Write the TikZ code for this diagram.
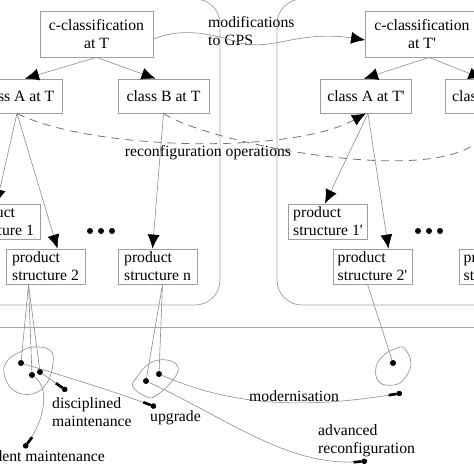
\documentclass[tikz,border=0pt]{standalone}
\usepackage{fontspec}
\setmainfont{Liberation Serif}[Ligatures=TeXOff]
\usetikzlibrary{arrows.meta,calc}
\definecolor{boxgray}{gray}{0.62}
\definecolor{linegray}{gray}{0.55}
\definecolor{panelgray}{gray}{0.66}
\definecolor{dashgray}{gray}{0.45}
\newcommand{\twol}[2]{\begin{tabular}[t]{@{}l@{}}#1\\#2\end{tabular}}
\begin{document}
\begin{tikzpicture}[x=1pt,y=-1pt,
  font=\fontsize{15.7}{18}\selectfont,
  box/.style={draw=boxgray, line width=0.8pt, inner sep=0pt, align=center},
  ccbox/.style={box, minimum width=113pt, minimum height=46pt},
  clbox/.style={box, minimum width=91pt, minimum height=34pt},
  psbox/.style={box, minimum width=79pt, minimum height=35pt, align=left},
  conn/.style={draw=linegray, line width=0.6pt},
  arr/.style={conn, -{Latex[length=14pt,width=12pt,color=black]}},
  dsh/.style={draw=dashgray, line width=0.8pt, dash pattern=on 8pt off 6pt},
  panel/.style={draw=panelgray, line width=0.8pt, rounded corners=25pt},
  blob/.style={draw=linegray, line width=0.6pt},
  dotn/.style={circle, fill=black, inner sep=0pt, minimum size=6pt},
  endtip/.style={conn, -{Rectangle[length=8pt,width=2.6pt,color=black] Circle[length=5.5pt,color=black]}},
  lbl/.style={inner sep=0pt}
]
\useasboundingbox (0,0) rectangle (474,474);
\clip (0,0) rectangle (474,474);

% panels and separator
\draw[panel] (-60,-1) rectangle (220,305);
\draw[panel] (277,-1) rectangle (540,305);
\draw[draw=panelgray, line width=0.8pt] (-10,327) -- (484,327);

% boxes
\node[ccbox] (ccT)  at (96.5,34) {c-classification\\at T};
\node[ccbox] (ccT2) at (422,34)  {c-classification\\at T'};
\node[clbox] (cAT)  at (17,96)    {class A at T};
\node[clbox] (cBT)  at (163.5,96) {class B at T};
\node[clbox] (cAT2) at (366,96)   {class A at T'};
\node[clbox] (cBT2) at (490.5,96) {class B at T'};
\node[psbox] (ps1)  at (0.5,221.5)   {product\\structure 1};
\node[psbox] (ps2)  at (45.5,266.5)  {product\\structure 2};
\node[psbox] (psn)  at (157.5,266.5) {product\\structure n};
\node[psbox] (ps1p) at (328,221.5)   {product\\structure 1'};
\node[psbox] (ps2p) at (372.5,266.5) {product\\structure 2'};
\node[psbox] (psnp) at (498.5,266.5) {product\\structure n'};

% ellipsis dots
\foreach \x in {90,101,112,418,429,440} \fill (\x,231) circle (3pt);

% modifications
\node[lbl, anchor=base west] (modl) at (208,27.5) {\twol{modifications}{to GPS}};
\draw[arr] ($(ccT.east)+(0,5)$) .. controls (178,29) and (205,31) .. (240,43)
  .. controls (272,51) and (300,30) .. ($(ccT2.west)+(0,6)$);

% tree arrows left
\draw[arr] (ccT.south) -- ($(cAT.north)+(8,0)$);
\draw[arr] (ccT.south) -- ($(cBT.north)+(-8,0)$);
\draw[arr] (cAT.south) -- ($(ps1.north)+(-4,0)$);
\draw[arr] (cAT.south) -- ($(ps2.north)+(12,0)$);
\draw[arr] (cBT.south) -- ($(psn.north)+(-5,0)$);
% tree arrows right
\draw[arr] ($(ccT2.south)+(7,0)$) -- ($(cAT2.north)+(-2,0)$);
\draw[arr] ($(ccT2.south)+(7,0)$) -- ($(cBT2.north)+(-8,0)$);
\draw[arr] ($(cAT2.south)+(2,0)$) -- ($(ps1p.north)+(-3,0)$);
\draw[arr] ($(cAT2.south)+(2,0)$) -- ($(ps2p.north)+(16,0)$);

% reconfiguration operations
\draw[dsh, -{Latex[length=14pt,width=12pt,color=black]}] (cAT.south) .. controls (90,150) and (290,155) .. (cAT2.south);
\draw[dsh, -{Latex[length=14pt,width=12pt,color=black]}] (cBT.south) .. controls (210,145) and (470,195) .. (cBT2.south);
\node[lbl, anchor=base] (rec) at (208,156) {reconfiguration operations};

% blobs
\draw[blob] plot[smooth cycle, tension=0.7] coordinates {(33,347) (50,350) (53,363) (47,383) (32,394) (13,390) (4,373) (8,360) (20,352)};
\draw[blob] plot[smooth cycle, tension=0.7] coordinates {(167,360) (178,367) (173,380) (157,395) (147,397) (133,387) (137,377) (150,363)};
\draw[blob] plot[smooth cycle, tension=0.7] coordinates {(404,348) (411,363) (405,378) (394,385) (379,382) (376,367) (384,355) (395,349)};

% dots
\node[dotn] (d1) at (21,363) {};
\node[dotn] (d2) at (32,375) {};
\node[dotn] (d3) at (40,372) {};
\node[dotn] (e1) at (146,381) {};
\node[dotn] (e2) at (159,374) {};
\node[dotn] (f1) at (393,363) {};

\draw[conn] ($(ps2.south)+(-17,0)$) -- (d1);
\draw[conn] ($(ps2.south)+(-17,0)$) -- (d2);
\draw[conn] ($(ps2.south)+(-17,0)$) -- (d3);
\draw[conn] ($(psn.south)+(5,0)$) -- (e1);
\draw[conn] ($(psn.south)+(5,0)$) -- (e2);
\draw[conn] ($(ps2p.south)+(-5,0)$) -- (f1);

% end points
\coordinate (eU) at (156,407);
\coordinate (eD) at (67,391);
\coordinate (eI) at (24,448);
\coordinate (eM) at (402,393);
\coordinate (eA) at (367,461);

\draw[endtip] (d1) .. controls (60,375) and (110,390) .. (eU);
\draw[endtip] (d3) -- (eD);
\draw[endtip] (d2) .. controls (50,388) and (45,420) .. (eI);
\draw[endtip] (e2) .. controls (230,405) and (300,410) .. (eM);
\draw[endtip] (e1) .. controls (230,420) and (290,468) .. (eA);

% labels
\node[lbl, anchor=base west] (lD) at (52,408) {\twol{disciplined}{maintenance}};
\node[lbl, anchor=base east] (lI) at (105,461) {independent maintenance};
\node[lbl, anchor=base west] (lU) at (150,421) {upgrade};
\node[lbl, anchor=base west] (lM) at (249,401) {modernisation};
\node[lbl, anchor=base west] (lA) at (318,435) {\twol{advanced}{reconfiguration}};
\end{tikzpicture}
\end{document}
